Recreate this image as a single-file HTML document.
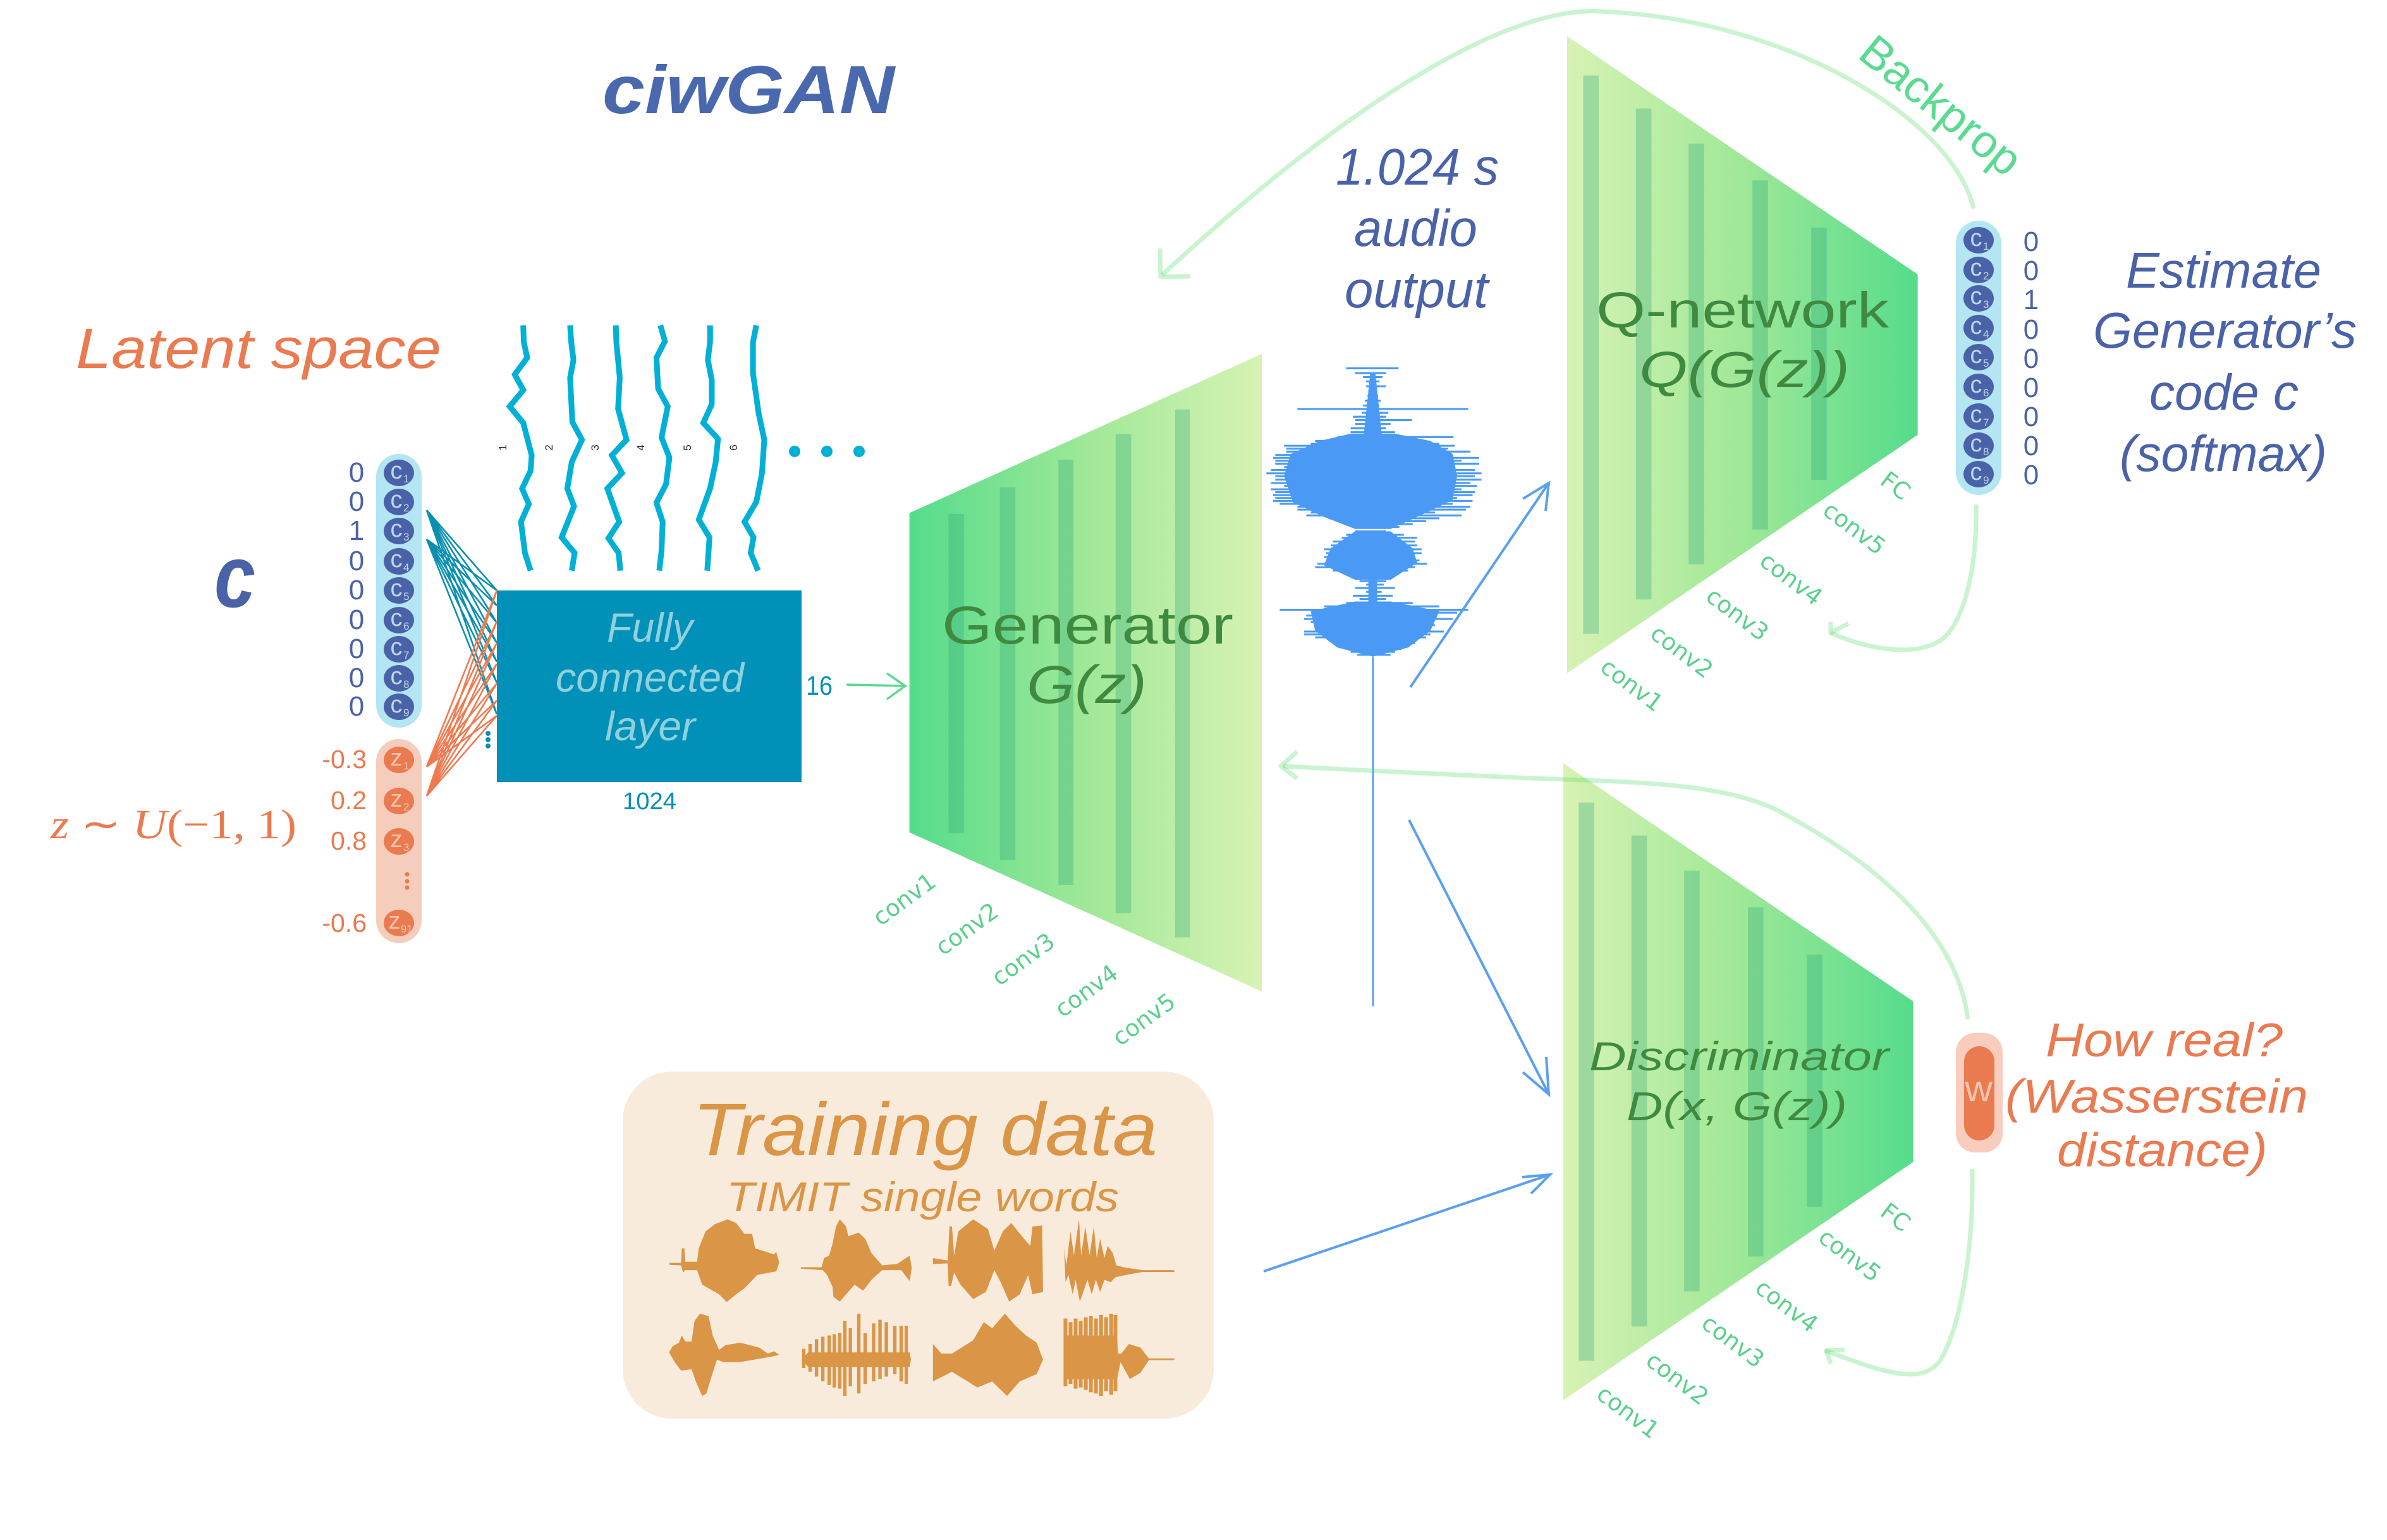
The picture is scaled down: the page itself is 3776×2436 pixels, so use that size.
<!DOCTYPE html>
<html><head><meta charset="utf-8"><title>ciwGAN</title>
<style>
html,body{margin:0;padding:0;background:#fff;width:3776px;height:2436px;overflow:hidden}
svg{display:block}
text{font-family:"Liberation Sans",sans-serif}
.i{font-style:italic}
.cv{font-family:"DejaVu Sans","Liberation Sans",sans-serif;font-size:37px;fill:#5bd08c;text-anchor:middle}
.nb{font-size:44px;fill:#4a62a8;text-anchor:middle}
.nz{font-size:41px;fill:#ea7a50;text-anchor:end}
.lc{font-size:38px;fill:#bcd8ec;text-anchor:middle}
.ls{font-size:17px;fill:#bcd8ec}
.lz{font-size:38px;fill:#f6c4ac;text-anchor:middle}
.lzs{font-size:17px;fill:#f6c4ac}
.tk{font-size:17px;fill:#222;text-anchor:middle}
.bar{fill:#2fa878;opacity:.32}
.bk{fill:none;stroke:#50d860;stroke-opacity:.3;stroke-width:7;stroke-linecap:butt;stroke-linejoin:round}
.bl{fill:none;stroke:#5aa0f0;stroke-width:4;stroke-linejoin:miter}
.wv{fill:#da9546}
</style></head>
<body>
<svg xmlns="http://www.w3.org/2000/svg" width="3776" height="2436" viewBox="0 0 3776 2436">
<defs>
<linearGradient id="gl"><stop offset="0" stop-color="#55dc8c"/><stop offset=".5" stop-color="#9fe897"/><stop offset="1" stop-color="#d8f2b4"/></linearGradient>
<linearGradient id="gr"><stop offset="0" stop-color="#d8f2b4"/><stop offset=".5" stop-color="#9fe897"/><stop offset="1" stop-color="#55dc8c"/></linearGradient>
</defs>
<rect width="3776" height="2436" fill="#fff"/>

<!-- Title -->
<text x="953" y="179" class="i" font-weight="700" font-size="108" fill="#4a68ae" textLength="462" lengthAdjust="spacingAndGlyphs">ciwGAN</text>
<text x="120" y="582" class="i" font-size="90" fill="#ea7a50" textLength="578" lengthAdjust="spacingAndGlyphs">Latent space</text>
<text x="339" y="960" class="i" font-weight="700" font-size="140" fill="#4a62a8" textLength="65" lengthAdjust="spacingAndGlyphs">c</text>
<text x="80" y="1326" font-size="66" fill="#ea7a50" textLength="389" lengthAdjust="spacingAndGlyphs" style="font-family:'Liberation Serif',serif"><tspan font-style="italic">z</tspan> ∼ <tspan font-style="italic">U</tspan>(−1, 1)</text>

<!-- Fan lines -->
<path fill="none" stroke="#0a8fb0" stroke-width="2.6" d="M675 807L786 934M675 807L786 958M675 807L786 985M675 807L786 1017M675 807L786 1047M675 807L786 1080M675 807L786 1130M675 853L786 934M675 853L786 958M675 853L786 985M675 853L786 1017M675 853L786 1047M675 853L786 1080M675 853L786 1130"/>
<path fill="none" stroke="#f07a50" stroke-width="2.6" d="M675 1213L786 934M675 1213L786 983M675 1213L786 1017M675 1213L786 1050M675 1213L786 1081M675 1213L786 1108M675 1213L786 1132M675 1259L786 934M675 1259L786 983M675 1259L786 1017M675 1259L786 1050M675 1259L786 1081M675 1259L786 1108M675 1259L786 1132"/>

<!-- c pill -->
<rect x="595" y="718" width="72" height="433" rx="36" fill="#b3e5f2"/>
<g fill="#4a62a8">
<ellipse cx="631" cy="748" rx="24" ry="21"/><ellipse cx="631" cy="794" rx="24" ry="21"/><ellipse cx="631" cy="840" rx="24" ry="21"/><ellipse cx="631" cy="888" rx="24" ry="21"/><ellipse cx="631" cy="934" rx="24" ry="21"/><ellipse cx="631" cy="981" rx="24" ry="21"/><ellipse cx="631" cy="1027" rx="24" ry="21"/><ellipse cx="631" cy="1073" rx="24" ry="21"/><ellipse cx="631" cy="1118" rx="24" ry="21"/>
</g>
<text class="lc" x="627" y="757">c</text><text class="ls" x="638" y="763">1</text>
<text class="lc" x="627" y="803">c</text><text class="ls" x="638" y="809">2</text>
<text class="lc" x="627" y="849">c</text><text class="ls" x="638" y="855">3</text>
<text class="lc" x="627" y="897">c</text><text class="ls" x="638" y="903">4</text>
<text class="lc" x="627" y="943">c</text><text class="ls" x="638" y="949">5</text>
<text class="lc" x="627" y="990">c</text><text class="ls" x="638" y="996">6</text>
<text class="lc" x="627" y="1036">c</text><text class="ls" x="638" y="1042">7</text>
<text class="lc" x="627" y="1082">c</text><text class="ls" x="638" y="1088">8</text>
<text class="lc" x="627" y="1127">c</text><text class="ls" x="638" y="1133">9</text>
<text class="nb" x="564" y="762">0</text><text class="nb" x="564" y="808">0</text><text class="nb" x="564" y="854">1</text><text class="nb" x="564" y="902">0</text><text class="nb" x="564" y="948">0</text><text class="nb" x="564" y="995">0</text><text class="nb" x="564" y="1041">0</text><text class="nb" x="564" y="1087">0</text><text class="nb" x="564" y="1132">0</text>

<!-- z pill -->
<rect x="595" y="1169" width="72" height="323" rx="36" fill="#f5cdbd"/>
<g fill="#ea7a50"><ellipse cx="631" cy="1202" rx="24" ry="21"/><ellipse cx="631" cy="1267" rx="24" ry="21"/><ellipse cx="631" cy="1331" rx="24" ry="21"/><ellipse cx="631" cy="1460" rx="24" ry="21"/></g>
<text class="lz" x="627" y="1211">z</text><text class="lzs" x="638" y="1217">1</text>
<text class="lz" x="627" y="1276">z</text><text class="lzs" x="638" y="1282">2</text>
<text class="lz" x="627" y="1340">z</text><text class="lzs" x="638" y="1346">3</text>
<text class="lz" x="624" y="1469">z</text><text class="lzs" x="634" y="1475">91</text>
<text class="nz" x="580" y="1215">-0.3</text><text class="nz" x="580" y="1280">0.2</text><text class="nz" x="580" y="1344">0.8</text><text class="nz" x="580" y="1474">-0.6</text>
<g fill="#ea7a50"><circle cx="644" cy="1383" r="3.5"/><circle cx="644" cy="1394" r="3.5"/><circle cx="644" cy="1404" r="3.5"/></g>
<g fill="#0a8fb8"><circle cx="772" cy="1160" r="4"/><circle cx="772" cy="1170" r="4"/><circle cx="772" cy="1180" r="4"/></g>

<!-- FC box -->
<rect x="786" y="934" width="482" height="303" fill="#0090b8"/>
<text class="i" x="960" y="1015" font-size="65" fill="#8fd0dd" textLength="136" lengthAdjust="spacingAndGlyphs">Fully</text>
<text class="i" x="879" y="1094" font-size="65" fill="#8fd0dd" textLength="298" lengthAdjust="spacingAndGlyphs">connected</text>
<text class="i" x="957" y="1171" font-size="65" fill="#8fd0dd" textLength="143" lengthAdjust="spacingAndGlyphs">layer</text>
<text x="1275" y="1099" font-size="43" fill="#0090b8" textLength="42" lengthAdjust="spacingAndGlyphs">16</text>
<text x="985" y="1280" font-size="38" fill="#0090b8" textLength="85" lengthAdjust="spacingAndGlyphs">1024</text>

<!-- wavy lines -->
<g transform="translate(0 450) scale(.8929 .7018)" fill="none" stroke="#00b0d6" stroke-linejoin="miter">
<polyline vector-effect="non-scaling-stroke" stroke-width="9" points="927,92 928,130 934,165 912,203 927,238 903,275 927,312 942,385 940,420 925,460 937,495 923,535 930,605 940,645"/>
<polyline vector-effect="non-scaling-stroke" stroke-width="9" points="1010,92 1012,130 1016,170 1010,210 1014,310 1031,350 1013,400 1005,460 1017,500 995,570 1018,605 1013,645"/>
<polyline vector-effect="non-scaling-stroke" stroke-width="9" points="1091,92 1092,130 1098,210 1095,280 1110,350 1084,385 1102,425 1076,460 1097,535 1078,572 1096,605 1099,645"/>
<polyline vector-effect="non-scaling-stroke" stroke-width="9" points="1170,92 1178,128 1163,165 1166,235 1183,275 1172,345 1186,390 1180,450 1163,492 1174,535 1172,600 1168,645"/>
<polyline vector-effect="non-scaling-stroke" stroke-width="9" points="1258,92 1258,130 1254,170 1261,215 1261,270 1246,312 1272,348 1268,400 1258,460 1238,530 1257,570 1253,645"/>
<polyline vector-effect="non-scaling-stroke" stroke-width="9" points="1340,92 1334,130 1334,200 1344,290 1354,350 1350,425 1340,490 1319,535 1335,570 1330,605 1343,645"/>
</g>
<text class="tk" transform="translate(801 708) rotate(-90)">1</text>
<text class="tk" transform="translate(874 708) rotate(-90)">2</text>
<text class="tk" transform="translate(947 708) rotate(-90)">3</text>
<text class="tk" transform="translate(1019 708) rotate(-90)">4</text>
<text class="tk" transform="translate(1093 708) rotate(-90)">5</text>
<text class="tk" transform="translate(1166 708) rotate(-90)">6</text>
<g fill="#00b0d6"><circle cx="1257" cy="714" r="9"/><circle cx="1308" cy="714" r="9"/><circle cx="1359" cy="714" r="9"/></g>

<!-- Generator -->
<g transform="translate(1400 500) scale(.7015 .7653)">
<polygon points="55,407 850,78 850,1396 55,1067" fill="url(#gl)"/>
<rect class="bar" x="143" y="409" width="35" height="660"/>
<rect class="bar" x="259" y="354" width="35" height="770"/>
<rect class="bar" x="391" y="297" width="34" height="879"/>
<rect class="bar" x="520" y="244" width="35" height="990"/>
<rect class="bar" x="654" y="193" width="34" height="1091"/>
</g>
<text x="1490" y="1018" font-size="84" fill="#3f8a40" textLength="461" lengthAdjust="spacingAndGlyphs">Generator</text>
<text class="i" x="1624" y="1112" font-size="84" fill="#3f8a40" textLength="190" lengthAdjust="spacingAndGlyphs">G(z)</text>
<text class="cv" transform="translate(1431 1423) rotate(-36)" dy="12">conv1</text>
<text class="cv" transform="translate(1530 1470) rotate(-36)" dy="12">conv2</text>
<text class="cv" transform="translate(1619 1518) rotate(-36)" dy="12">conv3</text>
<text class="cv" transform="translate(1719 1568) rotate(-36)" dy="12">conv4</text>
<text class="cv" transform="translate(1810 1613) rotate(-36)" dy="12">conv5</text>

<!-- Green arrow 16 -> Generator -->
<path fill="none" stroke="#5bd98e" stroke-width="3.5" d="M1339 1083L1430 1085M1403 1065L1432 1085L1403 1106"/>

<!-- Q network -->
<g transform="translate(2400 0) scale(.8776 .7334)">
<polygon points="90,78 722,592 722,938 90,1452" fill="url(#gr)"/>
<rect class="bar" x="119" y="163" width="28" height="1204"/>
<rect class="bar" x="214" y="234" width="28" height="1059"/>
<rect class="bar" x="309" y="310" width="28" height="907"/>
<rect class="bar" x="424" y="389" width="28" height="753"/>
<rect class="bar" x="530" y="491" width="28" height="544"/>
</g>
<text x="2525" y="518" font-size="80" fill="#3f8a40" textLength="463" lengthAdjust="spacingAndGlyphs">Q-network</text>
<text class="i" x="2593" y="612" font-size="80" fill="#3f8a40" textLength="333" lengthAdjust="spacingAndGlyphs">Q(G(z))</text>
<text class="cv" transform="translate(2581 1084) rotate(37)" dy="12">conv1</text>
<text class="cv" transform="translate(2660 1031) rotate(37)" dy="12">conv2</text>
<text class="cv" transform="translate(2748 972) rotate(37)" dy="12">conv3</text>
<text class="cv" transform="translate(2833 916) rotate(37)" dy="12">conv4</text>
<text class="cv" transform="translate(2933 836) rotate(37)" dy="12">conv5</text>
<text class="cv" transform="translate(2998 769) rotate(37)" dy="12">FC</text>

<!-- Discriminator -->
<g transform="translate(2400 1150) scale(.8776 .7334)">
<polygon points="83,78 714,592 714,938 83,1452" fill="url(#gr)"/>
<rect class="bar" x="111" y="163" width="28" height="1204"/>
<rect class="bar" x="206" y="234" width="28" height="1059"/>
<rect class="bar" x="301" y="310" width="28" height="907"/>
<rect class="bar" x="416" y="389" width="28" height="753"/>
<rect class="bar" x="522" y="491" width="28" height="544"/>
</g>
<text class="i" x="2514" y="1693" font-size="64" fill="#3f8a40" textLength="474" lengthAdjust="spacingAndGlyphs">Discriminator</text>
<text class="i" x="2573" y="1772" font-size="64" fill="#3f8a40" textLength="349" lengthAdjust="spacingAndGlyphs">D(x, G(z))</text>
<text class="cv" transform="translate(2575 2234) rotate(37)" dy="12">conv1</text>
<text class="cv" transform="translate(2653 2181) rotate(37)" dy="12">conv2</text>
<text class="cv" transform="translate(2741 2122) rotate(37)" dy="12">conv3</text>
<text class="cv" transform="translate(2826 2066) rotate(37)" dy="12">conv4</text>
<text class="cv" transform="translate(2926 1986) rotate(37)" dy="12">conv5</text>
<text class="cv" transform="translate(2998 1926) rotate(37)" dy="12">FC</text>

<!-- Waveform -->
<line x1="2172" y1="1039" x2="2172" y2="1592" stroke="#5a9fe8" stroke-width="3"/>
<g transform="translate(1400 500) scale(.7015 .7653)">
<polygon fill="#4a9af5" points="1050,243 1150,243 1230,258 1280,285 1290,330 1280,380 1200,415 1140,440 1060,440 990,415 920,385 900,330 915,285 980,258"/>
<polygon fill="#4a9af5" points="1060,445 1140,445 1190,480 1200,510 1140,545 1060,545 990,515 1005,480"/>
<polygon fill="#4a9af5" points="1094,120 1106,120 1120,243 1080,243"/>
<polygon fill="#4a9af5" points="1090,545 1110,545 1110,595 1090,595"/>
<polygon fill="#4a9af5" points="1060,590 1140,590 1250,610 1230,650 1180,685 1100,704 1020,685 970,650 960,610"/>
<path fill="none" stroke="#4a9af5" stroke-width="4" d="M1040 108H1158M1060 118H1130M1078 126H1122M1085 135H1115M1085 145H1130M1090 155H1110M1088 165H1112M1082 175H1118M1078 185H1115M930 192H1315M1075 200H1135M1055 208H1130M1060 215H1188M1060 223H1140M1050 232H1130M1050 240H1150M1020 250H1282M970 258H1215M960 264H1250M900 268H1285M905 274H1270M905 280H1320M880 287H1230M875 293H1340M880 299H1300M880 305H1340M900 312H1250M870 318H1330M860 325H1345M880 331H1330M880 338H1345M870 345H1320M900 351H1335M870 358H1300M880 364H1330M875 370H1325M880 376H1290M875 382H1325M890 388H1280M930 394H1320M930 400H1310M960 406H1240M950 412H1300M1000 418H1250M1020 424H1220M1040 430H1190M1060 436H1160M1060 445H1130M1040 452H1170M1030 458H1200M1010 466H1195M1005 474H1200M990 482H1210M995 490H1210M990 498H1190M1000 505H1205M975 512H1222M970 519H1195M1010 526H1180M1040 533H1150M1050 540H1140M1070 548H1130M1085 555H1125M1060 562H1150M1085 570H1120M1055 578H1145M1070 585H1130M1040 593H1190M990 600H1250M890 607H1315M990 613H1290M950 619H1230M945 626H1280M960 632H1230M985 639H1240M1000 646H1220M945 652H1260M945 658H1230M970 664H1220M1000 670H1200M1010 676H1195M1030 682H1180M1040 688H1165M1050 694H1150M1065 700H1140"/>
</g>

<!-- Blue arrows -->
<path class="bl" d="M2231 1087L2450 764M2409 789L2450 764L2445 808"/>
<path class="bl" d="M2229 1297L2450 1731M2409 1696L2450 1731L2446 1672"/>
<path class="bl" d="M1999 2011L2452 1858M2408 1862L2452 1858L2422 1888"/>

<!-- Backprop arrows -->
<path class="bk" d="M3122 330C3090 190 2830 30 2532 18C2400 10 2170 130 1838 435"/>
<path class="bk" stroke-linecap="round" d="M1835 393L1836 438L1883 437"/>
<path class="bk" d="M3126 798C3128 890 3110 975 3076 1008C3040 1040 2960 1030 2896 1001"/>
<path class="bk" d="M2924 986L2896 1001L2896 984"/>
<path class="bk" d="M3113 1612C3095 1470 2960 1360 2812 1282C2720 1235 2560 1237 2400 1230C2280 1225 2150 1218 2030 1212"/>
<path class="bk" d="M2052 1189L2026 1212L2052 1231"/>
<path class="bk" d="M3120 1849C3122 1990 3098 2110 3067 2155C3040 2185 3000 2180 2887 2136"/>
<path class="bk" d="M2918 2135L2889 2136L2896 2157"/>
<text transform="translate(3070 167) rotate(39)" dy="24" text-anchor="middle" font-size="72" fill="#5adb90" textLength="305" lengthAdjust="spacingAndGlyphs">Backprop</text>

<!-- Q output pill -->
<rect x="3094" y="349" width="72" height="434" rx="36" fill="#b3e5f2"/>
<g fill="#4a62a8">
<ellipse cx="3130" cy="380" rx="24" ry="21"/><ellipse cx="3130" cy="427" rx="24" ry="21"/><ellipse cx="3130" cy="472" rx="24" ry="21"/><ellipse cx="3130" cy="519" rx="24" ry="21"/><ellipse cx="3130" cy="565" rx="24" ry="21"/><ellipse cx="3130" cy="612" rx="24" ry="21"/><ellipse cx="3130" cy="659" rx="24" ry="21"/><ellipse cx="3130" cy="705" rx="24" ry="21"/><ellipse cx="3130" cy="750" rx="24" ry="21"/>
</g>
<text class="lc" x="3126" y="389">c</text><text class="ls" x="3137" y="395">1</text>
<text class="lc" x="3126" y="436">c</text><text class="ls" x="3137" y="442">2</text>
<text class="lc" x="3126" y="481">c</text><text class="ls" x="3137" y="487">3</text>
<text class="lc" x="3126" y="528">c</text><text class="ls" x="3137" y="534">4</text>
<text class="lc" x="3126" y="574">c</text><text class="ls" x="3137" y="580">5</text>
<text class="lc" x="3126" y="621">c</text><text class="ls" x="3137" y="627">6</text>
<text class="lc" x="3126" y="668">c</text><text class="ls" x="3137" y="674">7</text>
<text class="lc" x="3126" y="714">c</text><text class="ls" x="3137" y="720">8</text>
<text class="lc" x="3126" y="759">c</text><text class="ls" x="3137" y="765">9</text>
<text class="nb" x="3213" y="397">0</text><text class="nb" x="3213" y="443">0</text><text class="nb" x="3213" y="489">1</text><text class="nb" x="3213" y="536">0</text><text class="nb" x="3213" y="582">0</text><text class="nb" x="3213" y="628">0</text><text class="nb" x="3213" y="674">0</text><text class="nb" x="3213" y="720">0</text><text class="nb" x="3213" y="766">0</text>

<text class="i" x="3363" y="455" font-size="80" fill="#4a62a8" textLength="309" lengthAdjust="spacingAndGlyphs">Estimate</text>
<text class="i" x="3311" y="550" font-size="80" fill="#4a62a8" textLength="417" lengthAdjust="spacingAndGlyphs">Generator’s</text>
<text class="i" x="3400" y="648" font-size="80" fill="#4a62a8" textLength="236" lengthAdjust="spacingAndGlyphs">code c</text>
<text class="i" x="3353" y="745" font-size="80" fill="#4a62a8" textLength="328" lengthAdjust="spacingAndGlyphs">(softmax)</text>

<text class="i" x="2113" y="292" font-size="82" fill="#4a62a8" textLength="258" lengthAdjust="spacingAndGlyphs">1.024 s</text>
<text class="i" x="2142" y="389" font-size="82" fill="#4a62a8" textLength="195" lengthAdjust="spacingAndGlyphs">audio</text>
<text class="i" x="2127" y="486" font-size="82" fill="#4a62a8" textLength="227" lengthAdjust="spacingAndGlyphs">output</text>

<!-- W pill -->
<rect x="3094" y="1634" width="74" height="189" rx="30" fill="#f9cdbd"/>
<rect x="3107" y="1655" width="48" height="149" rx="24" fill="#ea7a50"/>
<text x="3108" y="1742" font-size="58" fill="#f6c4ac" textLength="44" lengthAdjust="spacingAndGlyphs">w</text>
<text class="i" x="3236" y="1671" font-size="75" fill="#ea7a50" textLength="375" lengthAdjust="spacingAndGlyphs">How real?</text>
<text class="i" x="3172" y="1760" font-size="75" fill="#ea7a50" textLength="479" lengthAdjust="spacingAndGlyphs">(Wasserstein</text>
<text class="i" x="3254" y="1845" font-size="75" fill="#ea7a50" textLength="333" lengthAdjust="spacingAndGlyphs">distance)</text>

<!-- Training data -->
<rect x="985" y="1695" width="935" height="549" rx="78" fill="#f8ebdb"/>
<text class="i" x="1095" y="1827" font-size="118" fill="#da9546" textLength="736" lengthAdjust="spacingAndGlyphs">Training data</text>
<text class="i" x="1149" y="1916" font-size="66" fill="#da9546" textLength="621" lengthAdjust="spacingAndGlyphs">TIMIT single words</text>
<g transform="translate(950 1680) scale(.6698 .3827)">
<polygon class="wv" points="163,830 190,830 192,770 198,770 200,825 228,825 232,770 248,700 270,670 300,650 320,665 340,710 358,710 365,770 410,795 415,785 422,830 415,865 370,880 340,935 320,960 298,992 280,960 240,920 228,860 200,860 195,870 190,840 163,838"/>
<polygon class="wv" points="473,848 522,848 528,810 540,800 548,750 556,680 565,650 580,680 585,720 610,705 625,730 640,790 665,840 700,835 730,800 735,850 730,905 710,860 665,860 640,900 620,945 600,920 585,950 565,990 550,970 548,930 535,880 525,860 473,854"/>
<polygon class="wv" points="785,810 820,820 824,680 830,680 835,800 845,700 880,650 915,690 930,780 950,700 970,665 1000,730 1015,760 1020,680 1043,675 1045,950 1020,960 1010,880 990,960 965,990 945,910 930,860 910,950 880,980 850,920 835,870 828,925 822,925 820,832 785,835"/>
<polygon class="wv" points="1095,770 1100,840 1110,700 1118,800 1130,650 1135,800 1145,680 1155,800 1165,680 1172,810 1180,730 1190,810 1198,760 1210,790 1218,840 1240,850 1280,860 1355,860 1355,868 1280,868 1240,880 1215,890 1205,910 1190,900 1180,950 1170,900 1160,960 1150,900 1132,990 1122,900 1115,960 1105,880 1098,910"/>
<polygon class="wv" points="162,1200 170,1175 185,1160 192,1130 200,1155 215,1155 222,1070 235,1040 255,1050 265,1130 280,1190 295,1170 330,1160 375,1180 395,1205 410,1195 422,1210 410,1215 380,1225 330,1240 290,1240 275,1230 262,1300 250,1370 240,1380 225,1320 215,1270 190,1275 175,1240"/>
<polygon class="wv" points="475,1230 490,1200 730,1200 733,1230 730,1260 490,1260"/>
<path fill="none" stroke="#da9546" stroke-width="8" d="M480 1185V1265M495 1165V1280M510 1145V1300M525 1135V1320M540 1130V1335M552 1125V1345M565 1120V1350M577 1070V1380M590 1100V1340M610 1040V1370M625 1120V1330M645 1080V1320M660 1065V1310M675 1075V1300M695 1090V1290M710 1090V1320M722 1090V1330"/>
<polygon class="wv" points="785,1165 805,1205 830,1205 880,1150 905,1075 925,1100 955,1040 980,1090 1005,1130 1030,1160 1045,1230 1030,1290 990,1320 960,1380 925,1320 890,1345 830,1280 785,1320"/>
<polygon class="wv" points="1095,1130 1220,1130 1222,1205 1230,1205 1248,1165 1275,1180 1295,1225 1355,1225 1355,1232 1295,1232 1275,1285 1250,1310 1228,1240 1220,1310 1095,1310"/>
<path fill="none" stroke="#da9546" stroke-width="9" d="M1098 1060V1340M1110 1075V1330M1122 1060V1350M1134 1070V1345M1146 1055V1355M1158 1050V1365M1170 1060V1370M1182 1045V1380M1194 1055V1360M1206 1040V1375M1216 1045V1360"/>
</g>
</svg>
</body></html>
